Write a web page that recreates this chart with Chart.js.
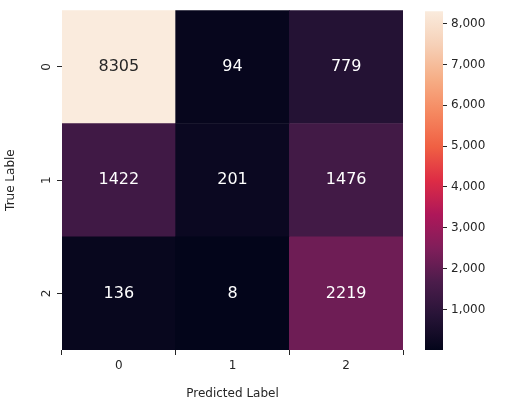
<!DOCTYPE html>
<html><head><meta charset="utf-8">
<script src="https://cdn.jsdelivr.net/npm/chart.js@4"></script>
<style>body{margin:0;background:#fff}#a{position:absolute;left:0;top:0;width:410px;height:405px}#b{position:absolute;left:410px;top:0;width:100px;height:405px}</style>
</head><body><div id="a"><canvas id="c1"></canvas></div><div id="b"><canvas id="c2"></canvas></div>
<script>
const predictedLabels = ['0','1','2'];
const trueLabels = ['0','1','2'];
const matrix = [[8305,94,779],[1422,201,1476],[136,8,2219]];
const colorbarTicks = [1000,2000,3000,4000,5000,6000,7000,8000];
const vmin = 8, vmax = 8305;
const stops = [[0,[3,5,26]],[0.1,[38,19,54]],[0.2,[75,28,75]],[0.3,[128,30,90]],[0.4,[174,23,89]],[0.5,[221,44,69]],[0.6,[240,96,67]],[0.7,[245,136,96]],[0.8,[246,174,134]],[0.9,[246,208,183]],[1,[250,235,221]]];
function cmap(t){t=Math.max(0,Math.min(1,t));for(let i=1;i<stops.length;i++){if(t<=stops[i][0]){const a=stops[i-1],b=stops[i];const f=(t-a[0])/(b[0]-a[0]);const c=a[1].map((v,k)=>Math.round(v+(b[1][k]-v)*f));return `rgb(${c})`;}}return 'rgb(250,235,221)';}
const norm=v=>(v-vmin)/(vmax-vmin);
// stacked from bottom: row 2, row 1, row 0
const rowsBottomUp=[2,1,0];
const datasets=rowsBottomUp.map(r=>({label:trueLabels[r],data:matrix[r].map(()=>1),values:matrix[r],backgroundColor:matrix[r].map(v=>cmap(norm(v))),barPercentage:1,categoryPercentage:1,borderWidth:0}));
const font={family:'DejaVu Sans',size:12};
const txt={id:'txt',afterDatasetsDraw(ch){const ctx=ch.ctx;ctx.save();ctx.textAlign='center';ctx.textBaseline='middle';
 ch.data.datasets.forEach((ds,di)=>{ch.getDatasetMeta(di).data.forEach((bar,i)=>{const v=ds.values[i];ctx.fillStyle=norm(v)>0.6?'#262626':'#ffffff';ctx.font='16px DejaVu Sans';ctx.fillText(String(v),bar.x,(bar.y+bar.base)/2);});});
 const y=ch.scales.y;ctx.fillStyle='#262626';ctx.font='12px DejaVu Sans';
 rowsBottomUp.forEach((r,i)=>{const py=y.getPixelForValue(i+0.5);ctx.save();ctx.translate(y.right-15,py);ctx.rotate(-Math.PI/2);ctx.fillText(trueLabels[r],0,0);ctx.restore();});
 ctx.restore();}};
new Chart(document.getElementById('c1'),{type:'bar',data:{labels:predictedLabels,datasets},plugins:[txt],
 options:{responsive:true,maintainAspectRatio:false,animation:false,layout:{padding:{top:8,right:7,left:0,bottom:0}},
 plugins:{legend:{display:false},tooltip:{enabled:false}},
 scales:{x:{stacked:true,grid:{drawOnChartArea:false,tickLength:5,color:'#262626'},border:{display:false},ticks:{color:'#262626',font,padding:4},title:{display:true,text:'Predicted Label',color:'#262626',font,padding:{top:2}},afterFit(s){s.height=55;}},
 y:{stacked:true,min:0,max:3,grid:{drawOnChartArea:false,tickLength:5,color:'#262626',offset:false},border:{display:false},afterBuildTicks(s){s.ticks=[{value:0.5},{value:1.5},{value:2.5}];},ticks:{callback:()=> ' ',font},title:{display:true,text:'True Lable',color:'#262626',font},afterFit(s){s.width=62;}}}}});
// colorbar
const cb={id:'cb',beforeDatasetsDraw(ch){const a=ch.chartArea,y=ch.scales.y,ctx=ch.ctx;const g=ctx.createLinearGradient(0,y.getPixelForValue(vmin),0,y.getPixelForValue(vmax));for(let i=0;i<=20;i++)g.addColorStop(i/20,cmap(i/20));ch.data.datasets[0].backgroundColor=g;}};
new Chart(document.getElementById('c2'),{type:'bar',data:{labels:['c'],datasets:[{data:[[vmin,vmax]],backgroundColor:'#000',barPercentage:1,categoryPercentage:1,borderWidth:0}]},plugins:[{id:'g',afterLayout(ch){const y=ch.scales.y,ctx=ch.ctx;const g=ctx.createLinearGradient(0,y.getPixelForValue(vmin),0,y.getPixelForValue(vmax));for(let i=0;i<=20;i++)g.addColorStop(i/20,cmap(i/20));ch.data.datasets[0].backgroundColor=g;}}],
 options:{responsive:true,maintainAspectRatio:false,animation:false,layout:{padding:{top:8,left:15,bottom:55,right:0}},plugins:{legend:{display:false},tooltip:{enabled:false}},
 scales:{x:{display:false},y:{position:'right',min:vmin,max:vmax,grid:{drawOnChartArea:false,tickLength:4,color:'#262626'},border:{display:false},afterBuildTicks(s){s.ticks=colorbarTicks.map(v=>({value:v}));},ticks:{color:'#262626',font,padding:4},afterFit(s){s.width=67;}}}}});
</script></body></html>
